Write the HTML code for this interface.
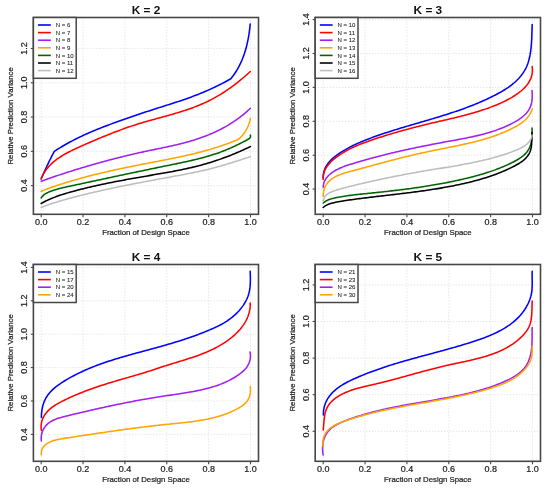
<!DOCTYPE html>
<html><head><meta charset="utf-8"><title>Prediction variance FDS plots</title>
<style>
html,body{margin:0;padding:0;background:#fff;}
svg{display:block;}
#w{width:550px;height:491px;}
text{font-family:"Liberation Sans",Arial,sans-serif;fill:#222;stroke:#222;stroke-width:0.22px;}
.grid{stroke:#d8d8d8;stroke-width:0.9;stroke-dasharray:1 2;fill:none;}
.crv{fill:none;stroke-width:1.55;stroke-linejoin:round;stroke-linecap:round;}
.box{fill:none;stroke:#474747;stroke-width:1.6;}
.lbox{fill:#fff;stroke:#474747;stroke-width:1.5;}
.tick{stroke:#474747;stroke-width:1.1;}
.lline{stroke-width:1.6;}
.tl{font-size:9px;}
.al{font-size:7.8px;}
.ti{font-size:11.8px;font-weight:bold;fill:#111;stroke:none;}
.lt{font-size:6.0px;stroke-width:0.08px;}
</style></head>
<body>
<div id="w">
<svg width="550" height="491" viewBox="0 0 550 491">
<rect width="550" height="491" fill="#fff"/>
<line x1="41.20" y1="17.5" x2="41.20" y2="214.3" class="grid"/>
<line x1="83.06" y1="17.5" x2="83.06" y2="214.3" class="grid"/>
<line x1="124.92" y1="17.5" x2="124.92" y2="214.3" class="grid"/>
<line x1="166.78" y1="17.5" x2="166.78" y2="214.3" class="grid"/>
<line x1="208.64" y1="17.5" x2="208.64" y2="214.3" class="grid"/>
<line x1="250.50" y1="17.5" x2="250.50" y2="214.3" class="grid"/>
<line x1="33.4" y1="185.62" x2="258.5" y2="185.62" class="grid"/>
<line x1="33.4" y1="151.34" x2="258.5" y2="151.34" class="grid"/>
<line x1="33.4" y1="117.06" x2="258.5" y2="117.06" class="grid"/>
<line x1="33.4" y1="82.78" x2="258.5" y2="82.78" class="grid"/>
<line x1="33.4" y1="48.50" x2="258.5" y2="48.50" class="grid"/>
<path d="M41.20,179.00 L41.82,177.52 L42.45,176.04 L43.09,174.56 L43.74,173.09 L44.39,171.62 L45.05,170.15 L45.72,168.69 L46.40,167.23 L47.08,165.78 L47.77,164.32 L48.47,162.87 L49.17,161.43 L49.88,159.99 L50.60,158.55 L51.33,157.11 L52.06,155.68 L52.80,154.25 L53.55,152.82 L54.30,151.40 L55.55,150.53 L56.84,149.71 L58.13,148.89 L59.42,148.08 L60.73,147.29 L62.03,146.51 L63.34,145.74 L64.65,144.97 L65.97,144.22 L67.30,143.48 L68.62,142.75 L69.95,142.03 L71.29,141.32 L72.63,140.61 L73.97,139.92 L75.32,139.23 L76.67,138.56 L78.03,137.89 L79.39,137.23 L80.75,136.58 L82.12,135.94 L83.49,135.30 L84.86,134.67 L86.24,134.05 L87.62,133.44 L89.00,132.83 L90.39,132.23 L91.78,131.63 L93.17,131.04 L94.56,130.46 L95.96,129.89 L97.36,129.31 L98.77,128.75 L100.17,128.19 L101.58,127.63 L102.99,127.08 L104.41,126.53 L105.82,125.99 L107.24,125.45 L108.66,124.92 L110.09,124.39 L111.51,123.86 L112.94,123.34 L114.36,122.82 L115.79,122.30 L117.23,121.79 L118.66,121.27 L120.10,120.76 L121.53,120.25 L122.97,119.75 L124.41,119.24 L125.85,118.74 L127.29,118.24 L128.74,117.73 L130.18,117.23 L131.63,116.74 L133.07,116.24 L134.52,115.75 L135.97,115.25 L137.41,114.76 L138.86,114.27 L140.31,113.78 L141.76,113.30 L143.21,112.81 L144.66,112.33 L146.11,111.85 L147.57,111.37 L149.02,110.90 L150.47,110.42 L151.92,109.95 L153.37,109.48 L154.82,109.01 L156.27,108.54 L157.72,108.08 L159.17,107.62 L160.62,107.16 L162.07,106.70 L163.52,106.25 L164.96,105.79 L166.41,105.33 L167.86,104.88 L169.30,104.42 L170.74,103.96 L172.19,103.50 L173.63,103.04 L175.07,102.57 L176.51,102.11 L177.94,101.63 L179.38,101.16 L180.81,100.68 L182.25,100.19 L183.68,99.70 L185.11,99.20 L186.53,98.70 L187.96,98.19 L189.38,97.67 L190.81,97.15 L192.22,96.62 L193.64,96.09 L195.06,95.55 L196.47,95.00 L197.88,94.45 L199.29,93.88 L200.69,93.32 L202.09,92.74 L203.49,92.16 L204.89,91.57 L206.28,90.97 L207.67,90.36 L209.06,89.75 L210.45,89.13 L211.83,88.50 L213.21,87.86 L214.58,87.22 L215.95,86.56 L217.32,85.90 L218.69,85.23 L220.05,84.55 L221.40,83.86 L222.76,83.16 L224.11,82.46 L225.45,81.74 L226.79,81.02 L228.13,80.28 L229.46,79.54 L230.80,78.80 L231.78,77.58 L232.74,76.34 L233.66,75.08 L234.55,73.81 L235.41,72.52 L236.25,71.21 L237.05,69.88 L237.82,68.54 L238.57,67.19 L239.29,65.81 L239.98,64.43 L240.65,63.03 L241.29,61.62 L241.90,60.20 L242.49,58.77 L243.05,57.32 L243.59,55.87 L244.11,54.40 L244.60,52.93 L245.07,51.45 L245.52,49.96 L245.95,48.46 L246.35,46.96 L246.74,45.45 L247.10,43.93 L247.45,42.41 L247.77,40.89 L248.08,39.36 L248.37,37.83 L248.64,36.29 L248.89,34.76 L249.12,33.22 L249.34,31.68 L249.55,30.15 L249.73,28.61 L249.91,27.07 L250.06,25.54 L250.20,24.00" stroke="#0000ff" class="crv"/>
<path d="M41.20,178.50 L41.82,177.01 L42.52,175.58 L43.26,174.19 L44.04,172.86 L44.86,171.56 L45.72,170.31 L46.61,169.11 L47.54,167.94 L48.50,166.81 L49.49,165.72 L50.52,164.67 L51.57,163.64 L52.65,162.65 L53.76,161.70 L54.90,160.77 L56.06,159.87 L57.24,158.99 L58.45,158.14 L59.67,157.31 L60.92,156.51 L62.19,155.72 L63.48,154.95 L64.78,154.20 L66.09,153.46 L67.43,152.74 L68.77,152.04 L70.13,151.35 L71.49,150.66 L72.87,150.00 L74.25,149.34 L75.64,148.68 L77.04,148.04 L78.44,147.40 L79.84,146.77 L81.25,146.14 L82.66,145.52 L84.06,144.90 L85.47,144.28 L86.88,143.66 L88.28,143.05 L89.69,142.44 L91.09,141.83 L92.50,141.22 L93.91,140.62 L95.31,140.02 L96.72,139.42 L98.13,138.83 L99.53,138.24 L100.94,137.65 L102.35,137.07 L103.76,136.49 L105.17,135.92 L106.58,135.35 L107.99,134.78 L109.40,134.22 L110.81,133.66 L112.22,133.11 L113.64,132.56 L115.05,132.01 L116.47,131.47 L117.88,130.94 L119.30,130.41 L120.72,129.88 L122.14,129.36 L123.57,128.85 L124.99,128.34 L126.42,127.84 L127.84,127.34 L129.27,126.85 L130.70,126.37 L132.13,125.89 L133.57,125.42 L135.01,124.95 L136.44,124.49 L137.88,124.04 L139.33,123.59 L140.77,123.15 L142.22,122.72 L143.66,122.29 L145.11,121.86 L146.56,121.44 L148.02,121.03 L149.47,120.62 L150.92,120.21 L152.38,119.80 L153.83,119.40 L155.29,118.99 L156.75,118.59 L158.20,118.19 L159.66,117.79 L161.12,117.40 L162.57,117.00 L164.03,116.59 L165.48,116.19 L166.94,115.79 L168.39,115.38 L169.84,114.97 L171.29,114.56 L172.74,114.14 L174.19,113.72 L175.64,113.30 L177.08,112.87 L178.52,112.43 L179.96,111.99 L181.40,111.54 L182.84,111.09 L184.27,110.62 L185.70,110.15 L187.13,109.67 L188.55,109.19 L189.97,108.69 L191.39,108.18 L192.80,107.67 L194.21,107.14 L195.62,106.60 L197.02,106.05 L198.42,105.49 L199.82,104.92 L201.21,104.33 L202.59,103.73 L203.97,103.12 L205.35,102.49 L206.72,101.85 L208.08,101.19 L209.44,100.52 L210.79,99.83 L212.14,99.13 L213.48,98.41 L214.82,97.68 L216.15,96.93 L217.47,96.17 L218.79,95.39 L220.10,94.60 L221.41,93.80 L222.70,92.99 L223.99,92.16 L225.28,91.32 L226.55,90.47 L227.82,89.61 L229.08,88.73 L230.33,87.85 L231.58,86.95 L232.81,86.05 L234.04,85.14 L235.26,84.21 L236.47,83.28 L237.67,82.34 L238.86,81.38 L240.05,80.43 L241.22,79.46 L242.39,78.48 L243.54,77.50 L244.69,76.51 L245.82,75.52 L246.95,74.52 L248.07,73.51 L249.17,72.49 L250.30,71.50" stroke="#ff0000" class="crv"/>
<path d="M41.20,181.20 L42.62,180.72 L44.02,180.22 L45.42,179.73 L46.82,179.24 L48.23,178.74 L49.64,178.26 L51.05,177.77 L52.46,177.29 L53.88,176.80 L55.30,176.32 L56.72,175.84 L58.14,175.37 L59.57,174.89 L61.00,174.42 L62.43,173.95 L63.86,173.48 L65.30,173.02 L66.74,172.55 L68.18,172.09 L69.62,171.63 L71.06,171.17 L72.51,170.72 L73.96,170.26 L75.41,169.81 L76.86,169.36 L78.31,168.92 L79.77,168.47 L81.23,168.03 L82.69,167.59 L84.15,167.16 L85.61,166.72 L87.07,166.29 L88.54,165.86 L90.00,165.43 L91.47,165.01 L92.94,164.58 L94.41,164.16 L95.88,163.75 L97.35,163.33 L98.82,162.92 L100.30,162.51 L101.77,162.10 L103.25,161.70 L104.72,161.30 L106.20,160.90 L107.68,160.50 L109.16,160.11 L110.64,159.72 L112.12,159.33 L113.60,158.95 L115.08,158.56 L116.56,158.19 L118.04,157.81 L119.53,157.44 L121.01,157.07 L122.49,156.70 L123.97,156.33 L125.46,155.97 L126.94,155.61 L128.42,155.26 L129.91,154.90 L131.39,154.55 L132.87,154.21 L134.35,153.86 L135.84,153.52 L137.32,153.19 L138.80,152.85 L140.28,152.52 L141.76,152.20 L143.24,151.87 L144.72,151.55 L146.20,151.23 L147.68,150.92 L149.16,150.61 L150.63,150.30 L152.11,149.99 L153.59,149.68 L155.06,149.38 L156.53,149.08 L158.01,148.77 L159.48,148.47 L160.95,148.16 L162.42,147.86 L163.88,147.55 L165.35,147.24 L166.82,146.93 L168.28,146.62 L169.74,146.30 L171.20,145.98 L172.66,145.65 L174.12,145.32 L175.58,144.99 L177.03,144.65 L178.48,144.30 L179.93,143.95 L181.38,143.59 L182.83,143.22 L184.27,142.84 L185.72,142.46 L187.16,142.07 L188.60,141.67 L190.03,141.26 L191.47,140.84 L192.90,140.41 L194.33,139.97 L195.76,139.51 L197.18,139.05 L198.60,138.57 L200.02,138.08 L201.44,137.58 L202.85,137.07 L204.26,136.54 L205.67,136.01 L207.07,135.46 L208.47,134.89 L209.86,134.31 L211.25,133.72 L212.63,133.12 L214.01,132.50 L215.38,131.87 L216.74,131.23 L218.10,130.57 L219.45,129.90 L220.80,129.22 L222.14,128.52 L223.47,127.80 L224.79,127.07 L226.11,126.33 L227.42,125.57 L228.72,124.80 L230.01,124.01 L231.29,123.21 L232.57,122.39 L233.83,121.55 L235.09,120.70 L236.33,119.84 L237.57,118.96 L238.79,118.06 L240.01,117.15 L241.21,116.22 L242.41,115.27 L243.59,114.31 L244.76,113.33 L245.91,112.34 L247.06,111.32 L248.19,110.29 L249.32,109.25 L250.40,108.20" stroke="#a020f0" class="crv"/>
<path d="M41.20,191.20 L42.62,190.68 L44.04,190.14 L45.46,189.61 L46.88,189.08 L48.30,188.56 L49.72,188.04 L51.15,187.53 L52.57,187.03 L54.00,186.53 L55.44,186.04 L56.87,185.56 L58.31,185.08 L59.74,184.60 L61.18,184.13 L62.63,183.67 L64.07,183.21 L65.51,182.75 L66.96,182.30 L68.41,181.86 L69.86,181.42 L71.31,180.98 L72.76,180.55 L74.22,180.13 L75.67,179.71 L77.13,179.29 L78.59,178.88 L80.05,178.47 L81.51,178.07 L82.98,177.67 L84.44,177.27 L85.91,176.88 L87.37,176.50 L88.84,176.11 L90.31,175.74 L91.78,175.36 L93.25,174.99 L94.73,174.62 L96.20,174.26 L97.67,173.90 L99.15,173.54 L100.63,173.18 L102.10,172.83 L103.58,172.48 L105.06,172.14 L106.54,171.80 L108.02,171.46 L109.50,171.12 L110.98,170.79 L112.47,170.46 L113.95,170.13 L115.43,169.81 L116.92,169.48 L118.40,169.16 L119.89,168.85 L121.37,168.53 L122.86,168.22 L124.35,167.91 L125.83,167.60 L127.32,167.29 L128.81,166.98 L130.30,166.68 L131.78,166.38 L133.27,166.08 L134.76,165.78 L136.25,165.48 L137.74,165.19 L139.23,164.89 L140.71,164.60 L142.20,164.31 L143.69,164.02 L145.18,163.73 L146.67,163.44 L148.15,163.15 L149.64,162.86 L151.13,162.58 L152.62,162.29 L154.10,162.00 L155.59,161.72 L157.08,161.43 L158.56,161.15 L160.05,160.86 L161.53,160.57 L163.01,160.28 L164.50,159.99 L165.98,159.70 L167.46,159.40 L168.94,159.11 L170.43,158.81 L171.91,158.51 L173.39,158.21 L174.86,157.91 L176.34,157.60 L177.82,157.29 L179.29,156.98 L180.77,156.66 L182.24,156.34 L183.72,156.02 L185.19,155.69 L186.66,155.36 L188.13,155.03 L189.60,154.69 L191.07,154.34 L192.53,153.99 L194.00,153.64 L195.46,153.28 L196.92,152.92 L198.38,152.55 L199.84,152.17 L201.30,151.79 L202.76,151.40 L204.21,151.01 L205.67,150.61 L207.12,150.20 L208.57,149.79 L210.02,149.37 L211.47,148.94 L212.91,148.50 L214.36,148.06 L215.80,147.61 L217.24,147.15 L218.68,146.69 L220.11,146.21 L221.55,145.73 L222.98,145.23 L224.41,144.73 L225.84,144.22 L227.27,143.70 L228.69,143.17 L230.11,142.63 L231.53,142.09 L232.95,141.53 L234.37,140.96 L235.78,140.38 L237.19,139.79 L238.60,139.20 L239.81,138.07 L240.97,136.91 L242.07,135.71 L243.10,134.48 L244.07,133.21 L244.99,131.90 L245.84,130.56 L246.62,129.18 L247.35,127.76 L248.01,126.31 L248.61,124.82 L249.15,123.30 L249.63,121.73 L250.05,120.14 L250.40,118.50" stroke="#ffa500" class="crv"/>
<path d="M41.20,198.00 L42.22,196.57 L43.32,195.39 L44.46,194.43 L45.65,193.63 L46.88,192.95 L48.14,192.35 L49.44,191.79 L50.77,191.26 L52.14,190.75 L53.53,190.28 L54.94,189.83 L56.38,189.40 L57.84,188.99 L59.31,188.60 L60.80,188.22 L62.31,187.86 L63.82,187.50 L65.34,187.16 L66.86,186.83 L68.39,186.50 L69.92,186.17 L71.45,185.84 L72.97,185.51 L74.49,185.19 L76.01,184.86 L77.53,184.54 L79.04,184.21 L80.55,183.89 L82.06,183.56 L83.57,183.24 L85.07,182.92 L86.58,182.60 L88.08,182.27 L89.58,181.95 L91.08,181.63 L92.57,181.31 L94.07,180.99 L95.56,180.67 L97.05,180.35 L98.54,180.03 L100.03,179.71 L101.52,179.39 L103.01,179.08 L104.49,178.76 L105.97,178.44 L107.46,178.13 L108.94,177.81 L110.42,177.49 L111.90,177.18 L113.38,176.86 L114.85,176.55 L116.33,176.23 L117.81,175.92 L119.28,175.61 L120.76,175.29 L122.23,174.98 L123.71,174.67 L125.18,174.36 L126.65,174.05 L128.13,173.73 L129.60,173.42 L131.07,173.11 L132.54,172.80 L134.02,172.49 L135.49,172.18 L136.96,171.87 L138.43,171.56 L139.91,171.26 L141.38,170.95 L142.85,170.64 L144.33,170.33 L145.80,170.02 L147.27,169.72 L148.75,169.41 L150.22,169.10 L151.70,168.80 L153.18,168.49 L154.65,168.18 L156.13,167.88 L157.61,167.57 L159.09,167.27 L160.57,166.96 L162.06,166.66 L163.54,166.36 L165.02,166.05 L166.51,165.75 L168.00,165.45 L169.48,165.14 L170.97,164.84 L172.46,164.54 L173.96,164.23 L175.45,163.93 L176.94,163.62 L178.43,163.31 L179.93,163.00 L181.42,162.68 L182.91,162.36 L184.40,162.04 L185.90,161.72 L187.39,161.39 L188.88,161.06 L190.37,160.72 L191.85,160.38 L193.34,160.03 L194.82,159.67 L196.31,159.31 L197.79,158.95 L199.27,158.57 L200.74,158.19 L202.22,157.80 L203.69,157.40 L205.16,157.00 L206.63,156.58 L208.09,156.16 L209.55,155.72 L211.00,155.28 L212.46,154.83 L213.91,154.36 L215.35,153.89 L216.79,153.40 L218.23,152.91 L219.66,152.40 L221.09,151.87 L222.51,151.34 L223.93,150.79 L225.34,150.23 L226.75,149.65 L228.15,149.07 L229.55,148.47 L230.94,147.85 L232.32,147.23 L233.70,146.59 L235.08,145.95 L236.45,145.30 L237.82,144.63 L239.18,143.96 L240.53,143.28 L241.88,142.59 L243.23,141.89 L244.57,141.19 L245.90,140.48 L247.23,139.77 L248.55,139.05 L249.74,138.22 L250.48,137.01 L250.40,135.10" stroke="#006400" class="crv"/>
<path d="M41.20,203.50 L42.50,202.71 L43.87,202.00 L45.24,201.31 L46.62,200.64 L47.99,200.00 L49.38,199.38 L50.76,198.78 L52.15,198.20 L53.55,197.64 L54.94,197.10 L56.34,196.57 L57.74,196.06 L59.15,195.57 L60.56,195.09 L61.97,194.62 L63.39,194.17 L64.81,193.73 L66.23,193.30 L67.66,192.87 L69.08,192.46 L70.51,192.05 L71.95,191.66 L73.38,191.26 L74.82,190.88 L76.26,190.50 L77.71,190.12 L79.15,189.74 L80.60,189.37 L82.05,189.01 L83.51,188.65 L84.96,188.29 L86.42,187.94 L87.88,187.59 L89.34,187.24 L90.81,186.90 L92.27,186.56 L93.74,186.23 L95.21,185.89 L96.68,185.57 L98.16,185.24 L99.63,184.92 L101.11,184.60 L102.59,184.29 L104.07,183.97 L105.55,183.66 L107.03,183.36 L108.52,183.05 L110.00,182.75 L111.49,182.45 L112.98,182.16 L114.47,181.86 L115.96,181.57 L117.45,181.28 L118.94,181.00 L120.44,180.71 L121.93,180.43 L123.43,180.15 L124.92,179.87 L126.42,179.60 L127.92,179.32 L129.42,179.05 L130.92,178.78 L132.41,178.51 L133.91,178.24 L135.41,177.98 L136.91,177.71 L138.41,177.45 L139.92,177.18 L141.42,176.92 L142.92,176.66 L144.42,176.40 L145.92,176.14 L147.42,175.89 L148.92,175.63 L150.42,175.37 L151.92,175.12 L153.42,174.86 L154.92,174.60 L156.42,174.35 L157.92,174.09 L159.42,173.83 L160.92,173.57 L162.42,173.31 L163.91,173.04 L165.41,172.78 L166.90,172.51 L168.40,172.24 L169.89,171.96 L171.38,171.69 L172.87,171.41 L174.37,171.12 L175.85,170.84 L177.34,170.55 L178.83,170.25 L180.32,169.95 L181.80,169.65 L183.28,169.34 L184.76,169.03 L186.24,168.71 L187.72,168.38 L189.20,168.05 L190.67,167.71 L192.15,167.37 L193.62,167.02 L195.09,166.67 L196.56,166.30 L198.02,165.93 L199.49,165.55 L200.95,165.17 L202.41,164.77 L203.87,164.37 L205.32,163.96 L206.77,163.54 L208.22,163.11 L209.67,162.68 L211.12,162.23 L212.56,161.78 L214.00,161.31 L215.44,160.84 L216.88,160.36 L218.31,159.87 L219.74,159.37 L221.17,158.86 L222.59,158.35 L224.01,157.83 L225.43,157.30 L226.85,156.76 L228.26,156.21 L229.67,155.66 L231.07,155.10 L232.47,154.53 L233.87,153.96 L235.27,153.38 L236.66,152.79 L238.05,152.20 L239.44,151.60 L240.82,150.99 L242.20,150.38 L243.57,149.76 L244.94,149.14 L246.31,148.51 L247.67,147.87 L249.03,147.23 L250.40,146.60" stroke="#000000" class="crv"/>
<path d="M41.20,207.50 L42.61,206.91 L44.04,206.37 L45.47,205.83 L46.91,205.31 L48.34,204.80 L49.78,204.30 L51.22,203.81 L52.66,203.34 L54.10,202.87 L55.54,202.41 L56.99,201.96 L58.44,201.51 L59.89,201.08 L61.34,200.65 L62.79,200.23 L64.24,199.81 L65.70,199.40 L67.15,198.99 L68.61,198.59 L70.07,198.20 L71.53,197.80 L72.99,197.41 L74.45,197.03 L75.92,196.65 L77.38,196.27 L78.85,195.89 L80.32,195.52 L81.79,195.16 L83.26,194.79 L84.73,194.43 L86.20,194.07 L87.68,193.72 L89.15,193.36 L90.63,193.01 L92.10,192.67 L93.58,192.32 L95.06,191.98 L96.54,191.64 L98.02,191.30 L99.50,190.97 L100.98,190.64 L102.47,190.31 L103.95,189.98 L105.43,189.65 L106.92,189.33 L108.41,189.01 L109.89,188.69 L111.38,188.37 L112.87,188.06 L114.36,187.75 L115.85,187.43 L117.33,187.13 L118.82,186.82 L120.32,186.51 L121.81,186.21 L123.30,185.91 L124.79,185.61 L126.28,185.31 L127.78,185.01 L129.27,184.71 L130.76,184.42 L132.26,184.13 L133.75,183.84 L135.24,183.55 L136.74,183.26 L138.23,182.97 L139.73,182.68 L141.22,182.40 L142.72,182.11 L144.21,181.83 L145.71,181.55 L147.20,181.27 L148.70,180.99 L150.19,180.71 L151.69,180.43 L153.18,180.16 L154.68,179.88 L156.17,179.60 L157.67,179.33 L159.16,179.05 L160.66,178.78 L162.15,178.51 L163.64,178.23 L165.14,177.96 L166.63,177.69 L168.12,177.42 L169.62,177.15 L171.11,176.88 L172.60,176.61 L174.09,176.34 L175.58,176.06 L177.07,175.79 L178.56,175.51 L180.05,175.24 L181.54,174.96 L183.03,174.68 L184.52,174.40 L186.00,174.11 L187.49,173.82 L188.97,173.53 L190.46,173.23 L191.94,172.94 L193.43,172.63 L194.91,172.32 L196.39,172.01 L197.87,171.69 L199.35,171.37 L200.83,171.04 L202.31,170.71 L203.78,170.37 L205.26,170.02 L206.74,169.67 L208.21,169.31 L209.68,168.94 L211.16,168.57 L212.63,168.19 L214.10,167.80 L215.56,167.41 L217.03,167.00 L218.50,166.60 L219.96,166.19 L221.43,165.77 L222.89,165.35 L224.35,164.92 L225.81,164.49 L227.27,164.05 L228.72,163.61 L230.18,163.17 L231.63,162.72 L233.09,162.27 L234.54,161.82 L235.99,161.36 L237.43,160.90 L238.88,160.44 L240.33,159.97 L241.77,159.51 L243.21,159.04 L244.65,158.57 L246.09,158.10 L247.52,157.63 L248.96,157.16 L250.40,156.70" stroke="#bebebe" class="crv"/>
<rect x="33.4" y="17.5" width="225.10" height="196.80" class="box"/>
<line x1="41.20" y1="214.3" x2="41.20" y2="217.3" class="tick"/>
<text x="41.20" y="225.1" class="tl" text-anchor="middle">0.0</text>
<line x1="83.06" y1="214.3" x2="83.06" y2="217.3" class="tick"/>
<text x="83.06" y="225.1" class="tl" text-anchor="middle">0.2</text>
<line x1="124.92" y1="214.3" x2="124.92" y2="217.3" class="tick"/>
<text x="124.92" y="225.1" class="tl" text-anchor="middle">0.4</text>
<line x1="166.78" y1="214.3" x2="166.78" y2="217.3" class="tick"/>
<text x="166.78" y="225.1" class="tl" text-anchor="middle">0.6</text>
<line x1="208.64" y1="214.3" x2="208.64" y2="217.3" class="tick"/>
<text x="208.64" y="225.1" class="tl" text-anchor="middle">0.8</text>
<line x1="250.50" y1="214.3" x2="250.50" y2="217.3" class="tick"/>
<text x="250.50" y="225.1" class="tl" text-anchor="middle">1.0</text>
<line x1="33.4" y1="185.62" x2="30.8" y2="185.62" class="tick"/>
<text transform="translate(27.2,185.62) rotate(-90)" class="tl" text-anchor="middle">0.4</text>
<line x1="33.4" y1="151.34" x2="30.8" y2="151.34" class="tick"/>
<text transform="translate(27.2,151.34) rotate(-90)" class="tl" text-anchor="middle">0.6</text>
<line x1="33.4" y1="117.06" x2="30.8" y2="117.06" class="tick"/>
<text transform="translate(27.2,117.06) rotate(-90)" class="tl" text-anchor="middle">0.8</text>
<line x1="33.4" y1="82.78" x2="30.8" y2="82.78" class="tick"/>
<text transform="translate(27.2,82.78) rotate(-90)" class="tl" text-anchor="middle">1.0</text>
<line x1="33.4" y1="48.50" x2="30.8" y2="48.50" class="tick"/>
<text transform="translate(27.2,48.50) rotate(-90)" class="tl" text-anchor="middle">1.2</text>
<text x="145.95" y="235.2" class="al" text-anchor="middle">Fraction of Design Space</text>
<text transform="translate(13.3,115.90) rotate(-90)" class="al" text-anchor="middle">Relative Prediction Variance</text>
<text transform="translate(145.95,14.40) rotate(0.01)" class="ti" text-anchor="middle">K = 2</text>
<rect x="33.4" y="17.5" width="42.80" height="60.80" class="lbox"/>
<line x1="38.0" y1="25.00" x2="50.8" y2="25.00" stroke="#0000ff" class="lline"/>
<text x="55.8" y="27.10" class="lt">N = 6</text>
<line x1="38.0" y1="32.60" x2="50.8" y2="32.60" stroke="#ff0000" class="lline"/>
<text x="55.8" y="34.70" class="lt">N = 7</text>
<line x1="38.0" y1="40.20" x2="50.8" y2="40.20" stroke="#a020f0" class="lline"/>
<text x="55.8" y="42.30" class="lt">N = 8</text>
<line x1="38.0" y1="47.80" x2="50.8" y2="47.80" stroke="#ffa500" class="lline"/>
<text x="55.8" y="49.90" class="lt">N = 9</text>
<line x1="38.0" y1="55.40" x2="50.8" y2="55.40" stroke="#006400" class="lline"/>
<text x="55.8" y="57.50" class="lt">N = 10</text>
<line x1="38.0" y1="63.00" x2="50.8" y2="63.00" stroke="#000000" class="lline"/>
<text x="55.8" y="65.10" class="lt">N = 11</text>
<line x1="38.0" y1="70.60" x2="50.8" y2="70.60" stroke="#bebebe" class="lline"/>
<text x="55.8" y="72.70" class="lt">N = 12</text>
<line x1="323.20" y1="17.5" x2="323.20" y2="214.3" class="grid"/>
<line x1="365.06" y1="17.5" x2="365.06" y2="214.3" class="grid"/>
<line x1="406.92" y1="17.5" x2="406.92" y2="214.3" class="grid"/>
<line x1="448.78" y1="17.5" x2="448.78" y2="214.3" class="grid"/>
<line x1="490.64" y1="17.5" x2="490.64" y2="214.3" class="grid"/>
<line x1="532.50" y1="17.5" x2="532.50" y2="214.3" class="grid"/>
<line x1="315.2" y1="189.10" x2="540.5" y2="189.10" class="grid"/>
<line x1="315.2" y1="155.20" x2="540.5" y2="155.20" class="grid"/>
<line x1="315.2" y1="121.30" x2="540.5" y2="121.30" class="grid"/>
<line x1="315.2" y1="87.40" x2="540.5" y2="87.40" class="grid"/>
<line x1="315.2" y1="53.50" x2="540.5" y2="53.50" class="grid"/>
<line x1="315.2" y1="19.60" x2="540.5" y2="19.60" class="grid"/>
<path d="M323.20,178.00 L323.22,176.31 L323.36,174.67 L323.61,173.11 L323.96,171.60 L324.40,170.15 L324.92,168.76 L325.53,167.43 L326.22,166.14 L326.98,164.90 L327.81,163.71 L328.70,162.57 L329.65,161.46 L330.65,160.40 L331.70,159.37 L332.79,158.37 L333.91,157.41 L335.07,156.48 L336.26,155.57 L337.46,154.68 L338.69,153.82 L339.93,152.98 L341.18,152.15 L342.45,151.35 L343.73,150.56 L345.02,149.80 L346.33,149.05 L347.65,148.31 L348.97,147.59 L350.31,146.89 L351.66,146.21 L353.02,145.53 L354.39,144.88 L355.77,144.23 L357.15,143.60 L358.54,142.98 L359.94,142.38 L361.35,141.78 L362.76,141.19 L364.17,140.62 L365.59,140.05 L367.02,139.50 L368.44,138.95 L369.87,138.41 L371.31,137.87 L372.74,137.35 L374.18,136.83 L375.62,136.31 L377.06,135.80 L378.50,135.30 L379.94,134.80 L381.38,134.31 L382.83,133.82 L384.27,133.34 L385.72,132.86 L387.16,132.39 L388.61,131.92 L390.06,131.46 L391.51,130.99 L392.96,130.54 L394.41,130.08 L395.86,129.63 L397.31,129.18 L398.76,128.74 L400.21,128.30 L401.66,127.86 L403.12,127.42 L404.57,126.99 L406.02,126.55 L407.47,126.12 L408.93,125.69 L410.38,125.26 L411.83,124.84 L413.28,124.41 L414.74,123.98 L416.19,123.56 L417.64,123.14 L419.09,122.71 L420.54,122.29 L421.99,121.86 L423.44,121.44 L424.89,121.01 L426.34,120.59 L427.79,120.16 L429.24,119.74 L430.69,119.31 L432.13,118.88 L433.58,118.44 L435.02,118.01 L436.46,117.58 L437.91,117.14 L439.35,116.70 L440.79,116.25 L442.22,115.81 L443.66,115.36 L445.10,114.91 L446.53,114.45 L447.96,114.00 L449.40,113.53 L450.83,113.07 L452.25,112.60 L453.68,112.12 L455.11,111.64 L456.53,111.16 L457.95,110.67 L459.37,110.18 L460.79,109.68 L462.20,109.17 L463.61,108.66 L465.03,108.15 L466.43,107.63 L467.84,107.10 L469.25,106.56 L470.65,106.02 L472.05,105.48 L473.44,104.92 L474.84,104.36 L476.23,103.79 L477.62,103.21 L479.01,102.63 L480.39,102.04 L481.77,101.44 L483.15,100.83 L484.53,100.21 L485.90,99.58 L487.27,98.95 L488.64,98.31 L490.00,97.65 L491.36,96.99 L492.72,96.32 L494.07,95.64 L495.42,94.95 L496.76,94.24 L498.10,93.53 L499.43,92.80 L500.75,92.06 L502.05,91.30 L503.35,90.53 L504.63,89.74 L505.89,88.94 L507.14,88.11 L508.38,87.27 L509.59,86.41 L510.78,85.53 L511.95,84.63 L513.09,83.71 L514.21,82.77 L515.31,81.80 L516.38,80.81 L517.41,79.79 L518.42,78.75 L519.40,77.68 L520.34,76.59 L521.25,75.46 L522.12,74.31 L522.96,73.13 L523.76,71.91 L524.52,70.67 L525.23,69.39 L525.91,68.09 L526.54,66.74 L527.12,65.37 L527.66,63.96 L528.16,62.51 L528.61,61.05 L529.02,59.55 L529.40,58.04 L529.73,56.50 L530.04,54.96 L530.31,53.40 L530.56,51.83 L530.77,50.26 L530.96,48.69 L531.13,47.13 L531.28,45.57 L531.40,44.01 L531.51,42.47 L531.60,40.95 L531.68,39.44 L531.75,37.93 L531.81,36.44 L531.86,34.95 L531.91,33.47 L531.96,31.98 L532.00,30.50 L532.04,29.01 L532.09,27.52 L532.14,26.02 L532.20,24.50" stroke="#0000ff" class="crv"/>
<path d="M323.20,179.50 L323.14,177.88 L323.25,176.32 L323.47,174.80 L323.80,173.33 L324.23,171.91 L324.77,170.53 L325.39,169.20 L326.11,167.90 L326.90,166.65 L327.77,165.44 L328.70,164.27 L329.69,163.14 L330.74,162.04 L331.83,160.98 L332.97,159.95 L334.14,158.95 L335.34,157.99 L336.57,157.06 L337.81,156.15 L339.06,155.28 L340.32,154.43 L341.58,153.61 L342.86,152.81 L344.14,152.04 L345.43,151.29 L346.73,150.56 L348.03,149.85 L349.34,149.17 L350.66,148.50 L351.99,147.86 L353.32,147.23 L354.67,146.61 L356.01,146.02 L357.37,145.43 L358.73,144.86 L360.09,144.31 L361.46,143.76 L362.84,143.23 L364.23,142.71 L365.62,142.19 L367.01,141.69 L368.41,141.19 L369.82,140.69 L371.23,140.20 L372.64,139.72 L374.06,139.24 L375.49,138.76 L376.92,138.29 L378.35,137.82 L379.79,137.35 L381.24,136.89 L382.68,136.43 L384.13,135.97 L385.59,135.52 L387.04,135.07 L388.51,134.62 L389.97,134.18 L391.44,133.74 L392.91,133.31 L394.38,132.87 L395.86,132.44 L397.34,132.02 L398.82,131.60 L400.30,131.18 L401.79,130.76 L403.28,130.35 L404.77,129.94 L406.26,129.53 L407.75,129.13 L409.25,128.73 L410.74,128.33 L412.24,127.94 L413.74,127.55 L415.24,127.16 L416.74,126.78 L418.24,126.40 L419.74,126.02 L421.24,125.64 L422.74,125.27 L424.24,124.90 L425.75,124.54 L427.25,124.17 L428.75,123.81 L430.25,123.46 L431.75,123.10 L433.25,122.75 L434.75,122.40 L436.25,122.05 L437.75,121.71 L439.24,121.36 L440.74,121.01 L442.23,120.67 L443.72,120.32 L445.22,119.98 L446.70,119.63 L448.19,119.28 L449.68,118.93 L451.16,118.58 L452.65,118.23 L454.13,117.88 L455.61,117.52 L457.08,117.16 L458.56,116.80 L460.03,116.43 L461.50,116.06 L462.96,115.69 L464.43,115.31 L465.89,114.93 L467.35,114.54 L468.80,114.14 L470.25,113.75 L471.70,113.34 L473.15,112.93 L474.59,112.51 L476.03,112.09 L477.46,111.65 L478.89,111.21 L480.32,110.77 L481.74,110.31 L483.16,109.85 L484.58,109.37 L485.99,108.89 L487.40,108.40 L488.80,107.90 L490.20,107.39 L491.59,106.87 L492.98,106.33 L494.36,105.79 L495.74,105.23 L497.12,104.67 L498.49,104.08 L499.85,103.49 L501.21,102.88 L502.56,102.25 L503.91,101.60 L505.25,100.94 L506.59,100.26 L507.92,99.56 L509.25,98.83 L510.56,98.09 L511.88,97.32 L513.18,96.53 L514.48,95.72 L515.77,94.88 L517.04,94.01 L518.29,93.12 L519.52,92.20 L520.71,91.25 L521.88,90.27 L523.00,89.26 L524.09,88.22 L525.12,87.14 L526.11,86.03 L527.04,84.89 L527.91,83.71 L528.72,82.50 L529.46,81.24 L530.13,79.95 L530.72,78.62 L531.23,77.25 L531.66,75.84 L531.99,74.39 L532.23,72.89 L532.38,71.36 L532.42,69.77 L532.35,68.14 L532.20,66.50" stroke="#ff0000" class="crv"/>
<path d="M323.20,187.20 L323.33,185.56 L323.62,184.01 L324.04,182.54 L324.59,181.14 L325.26,179.82 L326.02,178.57 L326.89,177.39 L327.84,176.28 L328.87,175.23 L329.97,174.23 L331.12,173.29 L332.33,172.41 L333.57,171.58 L334.84,170.79 L336.15,170.04 L337.48,169.34 L338.85,168.68 L340.23,168.05 L341.63,167.45 L343.06,166.88 L344.49,166.33 L345.95,165.81 L347.41,165.31 L348.88,164.82 L350.35,164.35 L351.83,163.89 L353.31,163.43 L354.79,162.98 L356.27,162.54 L357.74,162.09 L359.22,161.66 L360.69,161.23 L362.16,160.80 L363.63,160.38 L365.10,159.96 L366.57,159.55 L368.04,159.14 L369.51,158.73 L370.97,158.33 L372.44,157.93 L373.90,157.54 L375.37,157.15 L376.83,156.76 L378.30,156.38 L379.76,156.00 L381.22,155.63 L382.68,155.26 L384.14,154.89 L385.60,154.53 L387.06,154.17 L388.52,153.81 L389.98,153.46 L391.44,153.11 L392.90,152.76 L394.36,152.42 L395.82,152.07 L397.28,151.74 L398.74,151.40 L400.20,151.07 L401.67,150.74 L403.13,150.41 L404.59,150.09 L406.05,149.77 L407.51,149.45 L408.97,149.13 L410.44,148.82 L411.90,148.50 L413.37,148.19 L414.83,147.89 L416.30,147.58 L417.76,147.28 L419.23,146.98 L420.70,146.68 L422.17,146.38 L423.64,146.08 L425.11,145.79 L426.58,145.50 L428.06,145.21 L429.53,144.92 L431.01,144.63 L432.49,144.35 L433.97,144.06 L435.45,143.78 L436.93,143.50 L438.41,143.21 L439.90,142.93 L441.38,142.66 L442.87,142.38 L444.36,142.10 L445.85,141.83 L447.35,141.55 L448.84,141.28 L450.34,141.00 L451.84,140.73 L453.34,140.45 L454.84,140.18 L456.34,139.90 L457.85,139.63 L459.35,139.34 L460.86,139.06 L462.36,138.77 L463.86,138.48 L465.37,138.19 L466.87,137.89 L468.37,137.58 L469.87,137.27 L471.37,136.96 L472.86,136.63 L474.36,136.30 L475.85,135.96 L477.34,135.62 L478.83,135.26 L480.31,134.90 L481.79,134.52 L483.27,134.14 L484.75,133.74 L486.22,133.34 L487.68,132.92 L489.15,132.49 L490.60,132.05 L492.06,131.59 L493.50,131.12 L494.95,130.64 L496.38,130.14 L497.81,129.63 L499.24,129.10 L500.66,128.55 L502.07,127.99 L503.47,127.42 L504.87,126.82 L506.26,126.21 L507.65,125.58 L509.02,124.93 L510.39,124.26 L511.75,123.57 L513.10,122.86 L514.45,122.13 L515.78,121.37 L517.09,120.59 L518.38,119.79 L519.64,118.95 L520.87,118.08 L522.06,117.18 L523.20,116.23 L524.30,115.25 L525.35,114.23 L526.34,113.16 L527.26,112.05 L528.12,110.88 L528.90,109.67 L529.61,108.41 L530.23,107.10 L530.76,105.75 L531.21,104.36 L531.56,102.92 L531.84,101.45 L532.05,99.95 L532.18,98.42 L532.25,96.86 L532.26,95.29 L532.21,93.70 L532.11,92.09 L532.00,90.50" stroke="#a020f0" class="crv"/>
<path d="M323.20,196.50 L323.21,194.75 L323.36,193.06 L323.61,191.45 L323.97,189.93 L324.42,188.48 L324.97,187.12 L325.61,185.82 L326.33,184.60 L327.13,183.45 L328.01,182.36 L328.97,181.34 L329.99,180.38 L331.07,179.48 L332.22,178.63 L333.42,177.85 L334.67,177.11 L335.97,176.42 L337.31,175.78 L338.69,175.18 L340.11,174.61 L341.56,174.08 L343.03,173.57 L344.52,173.09 L346.03,172.63 L347.55,172.19 L349.09,171.76 L350.62,171.34 L352.16,170.93 L353.69,170.52 L355.22,170.11 L356.74,169.70 L358.26,169.29 L359.78,168.89 L361.28,168.48 L362.79,168.07 L364.29,167.67 L365.78,167.27 L367.27,166.86 L368.76,166.46 L370.24,166.06 L371.72,165.66 L373.20,165.26 L374.67,164.86 L376.14,164.47 L377.61,164.07 L379.07,163.68 L380.54,163.28 L382.00,162.89 L383.45,162.50 L384.91,162.12 L386.36,161.73 L387.82,161.35 L389.27,160.97 L390.72,160.58 L392.17,160.21 L393.62,159.83 L395.06,159.46 L396.51,159.08 L397.96,158.71 L399.40,158.34 L400.85,157.98 L402.30,157.61 L403.74,157.25 L405.19,156.89 L406.64,156.54 L408.09,156.18 L409.54,155.83 L410.99,155.48 L412.44,155.14 L413.90,154.79 L415.35,154.45 L416.81,154.11 L418.27,153.78 L419.73,153.44 L421.20,153.12 L422.66,152.79 L424.14,152.47 L425.61,152.15 L427.09,151.83 L428.57,151.51 L430.05,151.20 L431.53,150.90 L433.02,150.59 L434.52,150.29 L436.01,149.99 L437.51,149.68 L439.01,149.39 L440.51,149.09 L442.01,148.79 L443.51,148.49 L445.02,148.19 L446.53,147.89 L448.03,147.59 L449.54,147.29 L451.05,146.99 L452.56,146.68 L454.07,146.38 L455.58,146.07 L457.09,145.75 L458.60,145.44 L460.11,145.12 L461.61,144.80 L463.12,144.47 L464.62,144.13 L466.13,143.80 L467.63,143.45 L469.13,143.11 L470.63,142.75 L472.12,142.39 L473.62,142.02 L475.11,141.65 L476.60,141.27 L478.08,140.88 L479.56,140.48 L481.04,140.08 L482.52,139.66 L483.99,139.24 L485.45,138.80 L486.92,138.36 L488.37,137.91 L489.83,137.45 L491.28,136.97 L492.72,136.49 L494.16,135.99 L495.59,135.49 L497.02,134.97 L498.44,134.44 L499.86,133.89 L501.27,133.34 L502.67,132.76 L504.07,132.18 L505.46,131.58 L506.84,130.97 L508.22,130.34 L509.58,129.70 L510.95,129.04 L512.30,128.37 L513.64,127.68 L514.98,126.97 L516.30,126.24 L517.61,125.49 L518.89,124.71 L520.14,123.90 L521.37,123.06 L522.56,122.17 L523.72,121.25 L524.83,120.28 L525.89,119.27 L526.91,118.20 L527.86,117.07 L528.76,115.89 L529.60,114.65 L530.37,113.34 L531.07,111.97 L531.69,110.52 L532.20,109.00" stroke="#ffa500" class="crv"/>
<path d="M323.20,203.00 L324.46,201.98 L325.79,201.13 L327.13,200.42 L328.49,199.82 L329.87,199.30 L331.26,198.87 L332.66,198.48 L334.07,198.13 L335.50,197.80 L336.93,197.50 L338.38,197.22 L339.84,196.95 L341.30,196.70 L342.78,196.46 L344.26,196.23 L345.76,196.01 L347.25,195.80 L348.76,195.59 L350.27,195.39 L351.79,195.20 L353.31,195.01 L354.84,194.82 L356.37,194.64 L357.91,194.47 L359.44,194.30 L360.98,194.13 L362.53,193.97 L364.07,193.81 L365.61,193.65 L367.15,193.49 L368.69,193.33 L370.23,193.18 L371.77,193.02 L373.31,192.86 L374.84,192.71 L376.37,192.55 L377.90,192.39 L379.42,192.23 L380.95,192.06 L382.47,191.90 L383.98,191.74 L385.50,191.57 L387.01,191.40 L388.52,191.23 L390.03,191.06 L391.53,190.89 L393.04,190.72 L394.54,190.54 L396.04,190.36 L397.53,190.18 L399.03,190.00 L400.52,189.82 L402.02,189.63 L403.51,189.44 L405.00,189.25 L406.49,189.06 L407.97,188.86 L409.46,188.66 L410.94,188.46 L412.42,188.26 L413.91,188.05 L415.39,187.84 L416.87,187.63 L418.35,187.42 L419.83,187.20 L421.30,186.98 L422.78,186.75 L424.26,186.52 L425.73,186.29 L427.21,186.06 L428.68,185.82 L430.16,185.58 L431.64,185.33 L433.11,185.08 L434.59,184.83 L436.06,184.57 L437.54,184.31 L439.01,184.05 L440.49,183.78 L441.96,183.51 L443.44,183.23 L444.92,182.95 L446.39,182.66 L447.87,182.37 L449.35,182.07 L450.83,181.77 L452.31,181.47 L453.79,181.16 L455.28,180.85 L456.76,180.53 L458.25,180.20 L459.73,179.87 L461.22,179.54 L462.71,179.20 L464.20,178.86 L465.69,178.50 L467.18,178.15 L468.67,177.78 L470.16,177.41 L471.65,177.04 L473.13,176.65 L474.62,176.26 L476.11,175.86 L477.59,175.45 L479.07,175.04 L480.55,174.61 L482.03,174.18 L483.51,173.74 L484.98,173.29 L486.45,172.83 L487.91,172.36 L489.37,171.88 L490.83,171.39 L492.28,170.89 L493.73,170.38 L495.17,169.86 L496.60,169.32 L498.04,168.78 L499.46,168.22 L500.88,167.65 L502.29,167.07 L503.70,166.48 L505.10,165.87 L506.49,165.25 L507.87,164.62 L509.25,163.97 L510.62,163.31 L511.98,162.64 L513.33,161.95 L514.67,161.25 L516.00,160.52 L517.31,159.78 L518.59,159.01 L519.84,158.20 L521.06,157.36 L522.23,156.49 L523.36,155.57 L524.44,154.61 L525.46,153.59 L526.43,152.53 L527.32,151.40 L528.15,150.22 L528.90,148.97 L529.57,147.65 L530.15,146.25 L530.64,144.78 L531.05,143.26 L531.37,141.68 L531.63,140.08 L531.83,138.46 L531.96,136.84 L532.05,135.23 L532.10,133.66 L532.11,132.14 L532.09,130.67 L532.05,129.29 L532.00,128.00" stroke="#006400" class="crv"/>
<path d="M323.20,207.50 L324.46,206.46 L325.80,205.60 L327.15,204.88 L328.51,204.27 L329.89,203.77 L331.28,203.34 L332.68,202.96 L334.09,202.63 L335.52,202.31 L336.95,202.02 L338.40,201.75 L339.85,201.49 L341.32,201.25 L342.79,201.01 L344.27,200.78 L345.76,200.55 L347.25,200.32 L348.75,200.10 L350.26,199.88 L351.77,199.67 L353.29,199.46 L354.81,199.25 L356.34,199.04 L357.87,198.84 L359.40,198.64 L360.94,198.44 L362.47,198.25 L364.01,198.05 L365.55,197.86 L367.09,197.67 L368.63,197.48 L370.16,197.30 L371.70,197.11 L373.23,196.93 L374.76,196.75 L376.29,196.57 L377.82,196.39 L379.34,196.21 L380.87,196.03 L382.39,195.86 L383.90,195.68 L385.42,195.51 L386.93,195.33 L388.45,195.15 L389.96,194.98 L391.47,194.80 L392.97,194.63 L394.48,194.45 L395.98,194.28 L397.48,194.10 L398.98,193.92 L400.48,193.74 L401.98,193.56 L403.47,193.38 L404.97,193.20 L406.46,193.02 L407.96,192.83 L409.45,192.65 L410.94,192.46 L412.43,192.27 L413.91,192.08 L415.40,191.88 L416.89,191.68 L418.37,191.49 L419.86,191.28 L421.34,191.08 L422.82,190.87 L424.31,190.66 L425.79,190.45 L427.27,190.23 L428.75,190.02 L430.23,189.79 L431.71,189.57 L433.19,189.34 L434.67,189.10 L436.15,188.87 L437.63,188.62 L439.11,188.38 L440.59,188.13 L442.07,187.87 L443.55,187.61 L445.03,187.35 L446.52,187.08 L448.00,186.81 L449.48,186.53 L450.96,186.25 L452.44,185.96 L453.92,185.66 L455.41,185.36 L456.89,185.06 L458.38,184.74 L459.86,184.43 L461.35,184.10 L462.84,183.77 L464.32,183.43 L465.81,183.09 L467.30,182.74 L468.78,182.38 L470.27,182.02 L471.76,181.64 L473.24,181.26 L474.73,180.87 L476.21,180.48 L477.69,180.07 L479.17,179.66 L480.65,179.23 L482.12,178.80 L483.59,178.36 L485.06,177.91 L486.53,177.44 L487.99,176.97 L489.45,176.49 L490.91,176.00 L492.36,175.49 L493.81,174.98 L495.26,174.45 L496.70,173.91 L498.13,173.36 L499.56,172.80 L500.99,172.23 L502.41,171.64 L503.82,171.05 L505.23,170.43 L506.64,169.81 L508.03,169.17 L509.42,168.52 L510.81,167.86 L512.18,167.18 L513.55,166.48 L514.92,165.78 L516.26,165.05 L517.59,164.30 L518.89,163.53 L520.16,162.72 L521.39,161.88 L522.58,161.01 L523.71,160.10 L524.80,159.14 L525.82,158.13 L526.77,157.08 L527.65,155.97 L528.45,154.80 L529.17,153.57 L529.80,152.27 L530.33,150.91 L530.76,149.48 L531.09,147.97 L531.34,146.42 L531.51,144.83 L531.63,143.22 L531.71,141.60 L531.75,139.99 L531.78,138.39 L531.80,136.83 L531.84,135.32 L531.89,133.87 L532.00,132.50" stroke="#000000" class="crv"/>
<path d="M323.20,201.00 L323.53,199.43 L324.07,198.04 L324.79,196.80 L325.66,195.69 L326.68,194.70 L327.82,193.82 L329.06,193.04 L330.40,192.34 L331.81,191.71 L333.27,191.15 L334.78,190.63 L336.30,190.15 L337.83,189.69 L339.35,189.25 L340.86,188.83 L342.35,188.41 L343.83,188.00 L345.30,187.60 L346.77,187.22 L348.23,186.84 L349.68,186.46 L351.13,186.10 L352.58,185.74 L354.02,185.38 L355.46,185.03 L356.91,184.68 L358.35,184.33 L359.80,183.99 L361.25,183.65 L362.71,183.31 L364.17,182.97 L365.63,182.63 L367.09,182.30 L368.56,181.97 L370.02,181.64 L371.50,181.31 L372.97,180.98 L374.44,180.66 L375.92,180.33 L377.40,180.01 L378.88,179.69 L380.36,179.38 L381.85,179.06 L383.34,178.75 L384.82,178.44 L386.31,178.13 L387.81,177.82 L389.30,177.52 L390.79,177.22 L392.29,176.92 L393.78,176.62 L395.28,176.32 L396.78,176.03 L398.28,175.73 L399.78,175.44 L401.28,175.15 L402.78,174.87 L404.28,174.58 L405.78,174.30 L407.28,174.02 L408.79,173.74 L410.29,173.47 L411.79,173.19 L413.29,172.92 L414.80,172.65 L416.30,172.38 L417.80,172.12 L419.30,171.85 L420.80,171.59 L422.30,171.33 L423.81,171.07 L425.30,170.82 L426.80,170.56 L428.30,170.31 L429.80,170.06 L431.29,169.82 L432.79,169.57 L434.28,169.33 L435.78,169.08 L437.27,168.84 L438.76,168.60 L440.25,168.36 L441.74,168.12 L443.23,167.88 L444.72,167.63 L446.20,167.39 L447.69,167.15 L449.18,166.90 L450.66,166.66 L452.14,166.41 L453.63,166.16 L455.11,165.91 L456.59,165.65 L458.07,165.39 L459.55,165.13 L461.03,164.87 L462.51,164.60 L463.98,164.33 L465.46,164.06 L466.94,163.78 L468.41,163.49 L469.89,163.21 L471.36,162.91 L472.83,162.61 L474.31,162.31 L475.78,162.00 L477.25,161.68 L478.72,161.36 L480.19,161.03 L481.66,160.69 L483.13,160.35 L484.59,160.00 L486.06,159.64 L487.53,159.28 L488.99,158.90 L490.46,158.52 L491.92,158.13 L493.39,157.73 L494.85,157.32 L496.32,156.91 L497.78,156.48 L499.24,156.04 L500.70,155.59 L502.16,155.14 L503.62,154.67 L505.08,154.19 L506.54,153.70 L508.00,153.20 L509.46,152.68 L510.92,152.16 L512.37,151.62 L513.83,151.07 L515.28,150.50 L516.73,149.92 L518.15,149.30 L519.55,148.66 L520.92,147.98 L522.26,147.26 L523.55,146.49 L524.80,145.66 L525.99,144.78 L527.11,143.84 L528.17,142.83 L529.15,141.74 L530.03,140.58 L530.78,139.33 L531.38,137.99 L531.80,136.55 L532.00,135.00" stroke="#bebebe" class="crv"/>
<rect x="315.2" y="17.5" width="225.30" height="196.80" class="box"/>
<line x1="323.20" y1="214.3" x2="323.20" y2="217.3" class="tick"/>
<text x="323.20" y="225.1" class="tl" text-anchor="middle">0.0</text>
<line x1="365.06" y1="214.3" x2="365.06" y2="217.3" class="tick"/>
<text x="365.06" y="225.1" class="tl" text-anchor="middle">0.2</text>
<line x1="406.92" y1="214.3" x2="406.92" y2="217.3" class="tick"/>
<text x="406.92" y="225.1" class="tl" text-anchor="middle">0.4</text>
<line x1="448.78" y1="214.3" x2="448.78" y2="217.3" class="tick"/>
<text x="448.78" y="225.1" class="tl" text-anchor="middle">0.6</text>
<line x1="490.64" y1="214.3" x2="490.64" y2="217.3" class="tick"/>
<text x="490.64" y="225.1" class="tl" text-anchor="middle">0.8</text>
<line x1="532.50" y1="214.3" x2="532.50" y2="217.3" class="tick"/>
<text x="532.50" y="225.1" class="tl" text-anchor="middle">1.0</text>
<line x1="315.2" y1="189.10" x2="312.6" y2="189.10" class="tick"/>
<text transform="translate(309.0,189.10) rotate(-90)" class="tl" text-anchor="middle">0.4</text>
<line x1="315.2" y1="155.20" x2="312.6" y2="155.20" class="tick"/>
<text transform="translate(309.0,155.20) rotate(-90)" class="tl" text-anchor="middle">0.6</text>
<line x1="315.2" y1="121.30" x2="312.6" y2="121.30" class="tick"/>
<text transform="translate(309.0,121.30) rotate(-90)" class="tl" text-anchor="middle">0.8</text>
<line x1="315.2" y1="87.40" x2="312.6" y2="87.40" class="tick"/>
<text transform="translate(309.0,87.40) rotate(-90)" class="tl" text-anchor="middle">1.0</text>
<line x1="315.2" y1="53.50" x2="312.6" y2="53.50" class="tick"/>
<text transform="translate(309.0,53.50) rotate(-90)" class="tl" text-anchor="middle">1.2</text>
<line x1="315.2" y1="19.60" x2="312.6" y2="19.60" class="tick"/>
<text transform="translate(309.0,19.60) rotate(-90)" class="tl" text-anchor="middle">1.4</text>
<text x="427.85" y="235.2" class="al" text-anchor="middle">Fraction of Design Space</text>
<text transform="translate(295.1,115.90) rotate(-90)" class="al" text-anchor="middle">Relative Prediction Variance</text>
<text transform="translate(427.85,14.40) rotate(0.01)" class="ti" text-anchor="middle">K = 3</text>
<rect x="315.2" y="17.5" width="42.80" height="60.80" class="lbox"/>
<line x1="319.8" y1="25.00" x2="332.6" y2="25.00" stroke="#0000ff" class="lline"/>
<text x="337.6" y="27.10" class="lt">N = 10</text>
<line x1="319.8" y1="32.60" x2="332.6" y2="32.60" stroke="#ff0000" class="lline"/>
<text x="337.6" y="34.70" class="lt">N = 11</text>
<line x1="319.8" y1="40.20" x2="332.6" y2="40.20" stroke="#a020f0" class="lline"/>
<text x="337.6" y="42.30" class="lt">N = 12</text>
<line x1="319.8" y1="47.80" x2="332.6" y2="47.80" stroke="#ffa500" class="lline"/>
<text x="337.6" y="49.90" class="lt">N = 13</text>
<line x1="319.8" y1="55.40" x2="332.6" y2="55.40" stroke="#006400" class="lline"/>
<text x="337.6" y="57.50" class="lt">N = 14</text>
<line x1="319.8" y1="63.00" x2="332.6" y2="63.00" stroke="#000000" class="lline"/>
<text x="337.6" y="65.10" class="lt">N = 15</text>
<line x1="319.8" y1="70.60" x2="332.6" y2="70.60" stroke="#bebebe" class="lline"/>
<text x="337.6" y="72.70" class="lt">N = 16</text>
<line x1="41.20" y1="264.5" x2="41.20" y2="461.3" class="grid"/>
<line x1="83.06" y1="264.5" x2="83.06" y2="461.3" class="grid"/>
<line x1="124.92" y1="264.5" x2="124.92" y2="461.3" class="grid"/>
<line x1="166.78" y1="264.5" x2="166.78" y2="461.3" class="grid"/>
<line x1="208.64" y1="264.5" x2="208.64" y2="461.3" class="grid"/>
<line x1="250.50" y1="264.5" x2="250.50" y2="461.3" class="grid"/>
<line x1="33.4" y1="434.40" x2="258.5" y2="434.40" class="grid"/>
<line x1="33.4" y1="401.00" x2="258.5" y2="401.00" class="grid"/>
<line x1="33.4" y1="367.60" x2="258.5" y2="367.60" class="grid"/>
<line x1="33.4" y1="334.20" x2="258.5" y2="334.20" class="grid"/>
<line x1="33.4" y1="300.80" x2="258.5" y2="300.80" class="grid"/>
<line x1="33.4" y1="267.40" x2="258.5" y2="267.40" class="grid"/>
<path d="M41.40,417.50 L41.42,415.95 L41.49,414.39 L41.60,412.84 L41.77,411.30 L41.98,409.78 L42.25,408.28 L42.57,406.79 L42.95,405.34 L43.38,403.91 L43.86,402.51 L44.41,401.13 L45.01,399.80 L45.68,398.49 L46.40,397.23 L47.19,396.00 L48.03,394.81 L48.92,393.66 L49.86,392.54 L50.85,391.45 L51.89,390.40 L52.96,389.37 L54.07,388.37 L55.22,387.40 L56.40,386.46 L57.61,385.54 L58.84,384.64 L60.09,383.77 L61.37,382.92 L62.65,382.08 L63.96,381.27 L65.27,380.47 L66.59,379.68 L67.91,378.92 L69.23,378.16 L70.56,377.42 L71.90,376.69 L73.23,375.98 L74.57,375.27 L75.91,374.58 L77.26,373.91 L78.61,373.24 L79.96,372.59 L81.32,371.94 L82.68,371.31 L84.04,370.69 L85.41,370.08 L86.78,369.49 L88.15,368.90 L89.52,368.32 L90.90,367.75 L92.28,367.19 L93.67,366.64 L95.06,366.10 L96.45,365.56 L97.84,365.04 L99.23,364.52 L100.63,364.01 L102.03,363.51 L103.44,363.02 L104.85,362.53 L106.26,362.05 L107.67,361.58 L109.08,361.11 L110.50,360.65 L111.92,360.19 L113.34,359.74 L114.77,359.30 L116.19,358.86 L117.62,358.42 L119.06,357.99 L120.49,357.56 L121.93,357.14 L123.37,356.72 L124.81,356.31 L126.25,355.89 L127.70,355.48 L129.15,355.08 L130.60,354.67 L132.05,354.27 L133.50,353.87 L134.96,353.47 L136.42,353.07 L137.88,352.67 L139.34,352.28 L140.80,351.88 L142.27,351.48 L143.74,351.09 L145.21,350.69 L146.68,350.30 L148.15,349.90 L149.63,349.50 L151.10,349.10 L152.58,348.70 L154.06,348.29 L155.54,347.89 L157.03,347.48 L158.51,347.07 L160.00,346.66 L161.48,346.24 L162.97,345.82 L164.46,345.40 L165.95,344.97 L167.45,344.54 L168.94,344.10 L170.43,343.66 L171.93,343.21 L173.42,342.77 L174.92,342.31 L176.41,341.85 L177.90,341.39 L179.39,340.92 L180.88,340.45 L182.37,339.97 L183.85,339.49 L185.33,339.00 L186.81,338.51 L188.29,338.01 L189.76,337.51 L191.22,337.00 L192.68,336.49 L194.14,335.97 L195.59,335.44 L197.03,334.92 L198.47,334.38 L199.90,333.84 L201.32,333.30 L202.74,332.75 L204.14,332.19 L205.54,331.63 L206.93,331.06 L208.32,330.49 L209.69,329.91 L211.05,329.33 L212.40,328.74 L213.74,328.13 L215.08,327.52 L216.40,326.90 L217.70,326.26 L219.00,325.61 L220.28,324.94 L221.56,324.26 L222.81,323.55 L224.06,322.83 L225.29,322.08 L226.51,321.31 L227.71,320.51 L228.89,319.69 L230.07,318.84 L231.22,317.97 L232.36,317.06 L233.48,316.12 L234.59,315.15 L235.68,314.15 L236.75,313.10 L237.80,312.03 L238.84,310.91 L239.85,309.76 L240.83,308.58 L241.78,307.36 L242.69,306.12 L243.57,304.84 L244.40,303.54 L245.19,302.21 L245.93,300.86 L246.61,299.49 L247.24,298.09 L247.81,296.68 L248.32,295.25 L248.76,293.80 L249.14,292.34 L249.45,290.86 L249.71,289.37 L249.92,287.88 L250.09,286.37 L250.21,284.86 L250.30,283.34 L250.35,281.82 L250.37,280.30 L250.38,278.77 L250.36,277.25 L250.33,275.73 L250.28,274.21 L250.23,272.70 L250.20,271.20" stroke="#0000ff" class="crv"/>
<path d="M41.40,430.50 L41.17,428.82 L41.10,427.18 L41.13,425.59 L41.27,424.05 L41.51,422.57 L41.85,421.13 L42.28,419.75 L42.80,418.41 L43.41,417.12 L44.09,415.88 L44.85,414.68 L45.68,413.53 L46.57,412.42 L47.53,411.36 L48.54,410.33 L49.61,409.35 L50.72,408.40 L51.88,407.48 L53.08,406.60 L54.32,405.74 L55.59,404.92 L56.89,404.12 L58.22,403.35 L59.57,402.59 L60.94,401.86 L62.32,401.15 L63.71,400.45 L65.11,399.77 L66.51,399.10 L67.91,398.44 L69.31,397.79 L70.71,397.15 L72.11,396.53 L73.51,395.91 L74.92,395.30 L76.32,394.71 L77.73,394.12 L79.14,393.54 L80.54,392.97 L81.95,392.41 L83.36,391.86 L84.77,391.32 L86.18,390.79 L87.59,390.26 L89.01,389.74 L90.42,389.23 L91.84,388.72 L93.25,388.22 L94.67,387.73 L96.09,387.24 L97.50,386.77 L98.92,386.29 L100.34,385.82 L101.76,385.36 L103.19,384.90 L104.61,384.45 L106.03,384.00 L107.46,383.55 L108.88,383.11 L110.31,382.68 L111.74,382.24 L113.17,381.81 L114.60,381.38 L116.03,380.96 L117.46,380.54 L118.89,380.11 L120.33,379.70 L121.76,379.28 L123.20,378.86 L124.63,378.45 L126.07,378.04 L127.51,377.62 L128.95,377.21 L130.39,376.80 L131.83,376.38 L133.28,375.96 L134.72,375.55 L136.17,375.12 L137.61,374.70 L139.06,374.27 L140.51,373.84 L141.96,373.40 L143.41,372.96 L144.86,372.51 L146.31,372.05 L147.77,371.59 L149.22,371.13 L150.68,370.66 L152.13,370.18 L153.59,369.71 L155.05,369.23 L156.51,368.75 L157.98,368.27 L159.44,367.79 L160.90,367.31 L162.37,366.83 L163.83,366.35 L165.30,365.88 L166.77,365.41 L168.24,364.95 L169.71,364.49 L171.18,364.03 L172.65,363.58 L174.12,363.13 L175.60,362.68 L177.07,362.23 L178.53,361.78 L180.00,361.33 L181.47,360.88 L182.93,360.42 L184.39,359.97 L185.85,359.51 L187.31,359.05 L188.76,358.58 L190.21,358.11 L191.65,357.64 L193.09,357.15 L194.52,356.66 L195.95,356.17 L197.38,355.66 L198.80,355.15 L200.21,354.62 L201.62,354.09 L203.02,353.54 L204.41,352.99 L205.80,352.42 L207.18,351.84 L208.55,351.25 L209.91,350.64 L211.26,350.02 L212.61,349.38 L213.95,348.73 L215.27,348.06 L216.59,347.37 L217.90,346.67 L219.19,345.94 L220.48,345.20 L221.75,344.44 L223.01,343.66 L224.26,342.86 L225.50,342.03 L226.73,341.19 L227.94,340.32 L229.14,339.43 L230.33,338.51 L231.50,337.57 L232.66,336.60 L233.80,335.61 L234.93,334.60 L236.03,333.56 L237.10,332.49 L238.15,331.40 L239.18,330.29 L240.17,329.15 L241.13,327.99 L242.05,326.80 L242.94,325.59 L243.78,324.35 L244.59,323.09 L245.35,321.81 L246.06,320.50 L246.73,319.17 L247.34,317.82 L247.90,316.44 L248.41,315.04 L248.86,313.61 L249.25,312.16 L249.57,310.69 L249.84,309.19 L250.03,307.68 L250.16,306.13 L250.21,304.57 L250.20,303.00" stroke="#ff0000" class="crv"/>
<path d="M41.40,441.00 L41.23,439.40 L41.19,437.82 L41.29,436.27 L41.51,434.74 L41.85,433.26 L42.31,431.81 L42.87,430.42 L43.53,429.08 L44.29,427.81 L45.14,426.60 L46.07,425.46 L47.09,424.39 L48.17,423.41 L49.33,422.52 L50.54,421.70 L51.82,420.96 L53.14,420.28 L54.51,419.67 L55.92,419.10 L57.36,418.59 L58.83,418.11 L60.32,417.66 L61.83,417.25 L63.35,416.85 L64.88,416.46 L66.40,416.09 L67.93,415.71 L69.45,415.34 L70.96,414.97 L72.47,414.60 L73.98,414.24 L75.49,413.87 L76.99,413.51 L78.49,413.15 L79.99,412.79 L81.48,412.44 L82.97,412.09 L84.46,411.74 L85.95,411.39 L87.43,411.04 L88.91,410.70 L90.39,410.36 L91.87,410.02 L93.34,409.68 L94.82,409.35 L96.29,409.01 L97.76,408.68 L99.23,408.36 L100.70,408.03 L102.16,407.71 L103.63,407.39 L105.09,407.07 L106.55,406.75 L108.02,406.43 L109.48,406.12 L110.94,405.81 L112.40,405.50 L113.86,405.20 L115.32,404.89 L116.78,404.59 L118.25,404.29 L119.71,403.99 L121.17,403.70 L122.63,403.40 L124.09,403.11 L125.55,402.82 L127.02,402.54 L128.48,402.25 L129.95,401.97 L131.41,401.69 L132.88,401.41 L134.35,401.13 L135.82,400.86 L137.29,400.59 L138.77,400.32 L140.24,400.05 L141.72,399.78 L143.20,399.52 L144.68,399.26 L146.17,399.00 L147.65,398.74 L149.14,398.49 L150.63,398.24 L152.13,397.98 L153.62,397.74 L155.12,397.49 L156.62,397.24 L158.13,397.00 L159.64,396.76 L161.15,396.52 L162.67,396.29 L164.19,396.05 L165.71,395.82 L167.24,395.59 L168.77,395.36 L170.30,395.13 L171.84,394.91 L173.38,394.68 L174.92,394.45 L176.47,394.22 L178.01,393.99 L179.56,393.76 L181.10,393.52 L182.65,393.28 L184.19,393.04 L185.74,392.79 L187.28,392.54 L188.82,392.28 L190.36,392.01 L191.89,391.74 L193.43,391.45 L194.96,391.16 L196.49,390.87 L198.01,390.56 L199.53,390.24 L201.04,389.91 L202.55,389.57 L204.05,389.22 L205.54,388.85 L207.03,388.48 L208.51,388.08 L209.99,387.68 L211.45,387.26 L212.91,386.82 L214.36,386.37 L215.80,385.90 L217.23,385.42 L218.65,384.91 L220.06,384.39 L221.46,383.85 L222.85,383.29 L224.23,382.71 L225.59,382.11 L226.95,381.48 L228.29,380.84 L229.61,380.17 L230.92,379.48 L232.22,378.77 L233.51,378.03 L234.78,377.27 L236.03,376.48 L237.27,375.66 L238.49,374.82 L239.70,373.95 L240.88,373.05 L242.03,372.12 L243.14,371.14 L244.21,370.12 L245.22,369.05 L246.17,367.92 L247.04,366.73 L247.83,365.48 L248.54,364.16 L249.15,362.79 L249.65,361.36 L250.04,359.88 L250.31,358.36 L250.45,356.81 L250.45,355.23 L250.31,353.62 L250.00,352.00" stroke="#a020f0" class="crv"/>
<path d="M41.40,455.00 L41.26,453.26 L41.38,451.65 L41.71,450.16 L42.22,448.80 L42.91,447.56 L43.75,446.43 L44.72,445.40 L45.80,444.47 L46.96,443.63 L48.20,442.88 L49.49,442.21 L50.83,441.61 L52.21,441.07 L53.63,440.59 L55.08,440.17 L56.56,439.79 L58.07,439.45 L59.59,439.14 L61.14,438.86 L62.69,438.61 L64.24,438.36 L65.80,438.12 L67.35,437.89 L68.90,437.65 L70.45,437.42 L71.99,437.19 L73.52,436.95 L75.05,436.72 L76.58,436.49 L78.11,436.26 L79.63,436.03 L81.15,435.80 L82.66,435.57 L84.17,435.34 L85.68,435.11 L87.19,434.88 L88.69,434.66 L90.19,434.43 L91.68,434.21 L93.18,433.98 L94.67,433.76 L96.16,433.54 L97.65,433.32 L99.13,433.10 L100.61,432.88 L102.10,432.66 L103.58,432.44 L105.05,432.22 L106.53,432.01 L108.01,431.79 L109.48,431.58 L110.95,431.37 L112.43,431.16 L113.90,430.95 L115.37,430.74 L116.84,430.53 L118.31,430.32 L119.78,430.12 L121.24,429.92 L122.71,429.71 L124.18,429.51 L125.65,429.31 L127.12,429.11 L128.59,428.91 L130.06,428.72 L131.53,428.52 L133.00,428.33 L134.47,428.14 L135.94,427.95 L137.41,427.76 L138.89,427.57 L140.36,427.38 L141.84,427.20 L143.32,427.02 L144.80,426.84 L146.28,426.66 L147.76,426.48 L149.25,426.30 L150.74,426.13 L152.23,425.95 L153.72,425.78 L155.21,425.61 L156.71,425.44 L158.21,425.28 L159.71,425.11 L161.22,424.95 L162.73,424.79 L164.24,424.63 L165.75,424.47 L167.27,424.32 L168.79,424.16 L170.32,424.01 L171.84,423.86 L173.37,423.71 L174.90,423.55 L176.44,423.40 L177.97,423.24 L179.50,423.08 L181.04,422.92 L182.58,422.76 L184.11,422.59 L185.65,422.42 L187.18,422.24 L188.71,422.05 L190.25,421.86 L191.78,421.67 L193.31,421.46 L194.83,421.25 L196.35,421.03 L197.88,420.80 L199.39,420.56 L200.91,420.31 L202.41,420.05 L203.92,419.78 L205.42,419.50 L206.92,419.20 L208.41,418.89 L209.89,418.57 L211.37,418.23 L212.84,417.88 L214.31,417.52 L215.77,417.14 L217.22,416.74 L218.66,416.32 L220.10,415.89 L221.53,415.44 L222.95,414.97 L224.36,414.49 L225.76,413.98 L227.15,413.45 L228.53,412.91 L229.90,412.34 L231.26,411.75 L232.61,411.13 L233.95,410.50 L235.28,409.84 L236.59,409.15 L237.90,408.45 L239.19,407.71 L240.46,406.95 L241.71,406.15 L242.91,405.30 L244.06,404.39 L245.14,403.41 L246.15,402.36 L247.07,401.21 L247.88,399.97 L248.59,398.64 L249.18,397.22 L249.67,395.75 L250.04,394.23 L250.30,392.68 L250.45,391.11 L250.48,389.55 L250.39,388.00 L250.20,386.50" stroke="#ffa500" class="crv"/>
<rect x="33.4" y="264.5" width="225.10" height="196.80" class="box"/>
<line x1="41.20" y1="461.3" x2="41.20" y2="464.3" class="tick"/>
<text x="41.20" y="472.1" class="tl" text-anchor="middle">0.0</text>
<line x1="83.06" y1="461.3" x2="83.06" y2="464.3" class="tick"/>
<text x="83.06" y="472.1" class="tl" text-anchor="middle">0.2</text>
<line x1="124.92" y1="461.3" x2="124.92" y2="464.3" class="tick"/>
<text x="124.92" y="472.1" class="tl" text-anchor="middle">0.4</text>
<line x1="166.78" y1="461.3" x2="166.78" y2="464.3" class="tick"/>
<text x="166.78" y="472.1" class="tl" text-anchor="middle">0.6</text>
<line x1="208.64" y1="461.3" x2="208.64" y2="464.3" class="tick"/>
<text x="208.64" y="472.1" class="tl" text-anchor="middle">0.8</text>
<line x1="250.50" y1="461.3" x2="250.50" y2="464.3" class="tick"/>
<text x="250.50" y="472.1" class="tl" text-anchor="middle">1.0</text>
<line x1="33.4" y1="434.40" x2="30.8" y2="434.40" class="tick"/>
<text transform="translate(27.2,434.40) rotate(-90)" class="tl" text-anchor="middle">0.4</text>
<line x1="33.4" y1="401.00" x2="30.8" y2="401.00" class="tick"/>
<text transform="translate(27.2,401.00) rotate(-90)" class="tl" text-anchor="middle">0.6</text>
<line x1="33.4" y1="367.60" x2="30.8" y2="367.60" class="tick"/>
<text transform="translate(27.2,367.60) rotate(-90)" class="tl" text-anchor="middle">0.8</text>
<line x1="33.4" y1="334.20" x2="30.8" y2="334.20" class="tick"/>
<text transform="translate(27.2,334.20) rotate(-90)" class="tl" text-anchor="middle">1.0</text>
<line x1="33.4" y1="300.80" x2="30.8" y2="300.80" class="tick"/>
<text transform="translate(27.2,300.80) rotate(-90)" class="tl" text-anchor="middle">1.2</text>
<line x1="33.4" y1="267.40" x2="30.8" y2="267.40" class="tick"/>
<text transform="translate(27.2,267.40) rotate(-90)" class="tl" text-anchor="middle">1.4</text>
<text x="145.95" y="482.2" class="al" text-anchor="middle">Fraction of Design Space</text>
<text transform="translate(13.3,362.90) rotate(-90)" class="al" text-anchor="middle">Relative Prediction Variance</text>
<text transform="translate(145.95,261.40) rotate(0.01)" class="ti" text-anchor="middle">K = 4</text>
<rect x="33.4" y="264.5" width="42.80" height="38.00" class="lbox"/>
<line x1="38.0" y1="272.00" x2="50.8" y2="272.00" stroke="#0000ff" class="lline"/>
<text x="55.8" y="274.10" class="lt">N = 15</text>
<line x1="38.0" y1="279.60" x2="50.8" y2="279.60" stroke="#ff0000" class="lline"/>
<text x="55.8" y="281.70" class="lt">N = 17</text>
<line x1="38.0" y1="287.20" x2="50.8" y2="287.20" stroke="#a020f0" class="lline"/>
<text x="55.8" y="289.30" class="lt">N = 20</text>
<line x1="38.0" y1="294.80" x2="50.8" y2="294.80" stroke="#ffa500" class="lline"/>
<text x="55.8" y="296.90" class="lt">N = 24</text>
<line x1="323.20" y1="264.5" x2="323.20" y2="461.3" class="grid"/>
<line x1="365.06" y1="264.5" x2="365.06" y2="461.3" class="grid"/>
<line x1="406.92" y1="264.5" x2="406.92" y2="461.3" class="grid"/>
<line x1="448.78" y1="264.5" x2="448.78" y2="461.3" class="grid"/>
<line x1="490.64" y1="264.5" x2="490.64" y2="461.3" class="grid"/>
<line x1="532.50" y1="264.5" x2="532.50" y2="461.3" class="grid"/>
<line x1="315.2" y1="431.30" x2="540.5" y2="431.30" class="grid"/>
<line x1="315.2" y1="394.70" x2="540.5" y2="394.70" class="grid"/>
<line x1="315.2" y1="358.10" x2="540.5" y2="358.10" class="grid"/>
<line x1="315.2" y1="321.50" x2="540.5" y2="321.50" class="grid"/>
<line x1="315.2" y1="284.90" x2="540.5" y2="284.90" class="grid"/>
<path d="M323.40,415.00 L323.40,413.34 L323.49,411.71 L323.66,410.12 L323.91,408.57 L324.23,407.06 L324.62,405.60 L325.09,404.17 L325.62,402.79 L326.22,401.45 L326.88,400.14 L327.60,398.88 L328.38,397.65 L329.21,396.46 L330.10,395.31 L331.03,394.19 L332.01,393.11 L333.03,392.06 L334.10,391.05 L335.20,390.07 L336.35,389.12 L337.52,388.20 L338.73,387.31 L339.97,386.45 L341.24,385.61 L342.53,384.80 L343.85,384.01 L345.19,383.25 L346.55,382.50 L347.93,381.78 L349.32,381.08 L350.72,380.39 L352.14,379.72 L353.56,379.06 L354.99,378.42 L356.42,377.79 L357.86,377.17 L359.29,376.56 L360.73,375.96 L362.16,375.37 L363.59,374.78 L365.03,374.21 L366.46,373.64 L367.89,373.09 L369.32,372.54 L370.75,371.99 L372.18,371.46 L373.61,370.93 L375.04,370.42 L376.46,369.90 L377.89,369.40 L379.32,368.90 L380.75,368.41 L382.17,367.92 L383.60,367.44 L385.03,366.97 L386.45,366.50 L387.88,366.04 L389.31,365.58 L390.73,365.13 L392.16,364.68 L393.59,364.24 L395.01,363.80 L396.44,363.37 L397.87,362.94 L399.29,362.51 L400.72,362.09 L402.15,361.67 L403.58,361.26 L405.01,360.85 L406.44,360.44 L407.87,360.03 L409.30,359.63 L410.73,359.23 L412.16,358.83 L413.59,358.43 L415.03,358.04 L416.46,357.65 L417.90,357.25 L419.33,356.86 L420.77,356.48 L422.21,356.09 L423.64,355.70 L425.08,355.31 L426.53,354.93 L427.97,354.54 L429.41,354.15 L430.85,353.77 L432.30,353.38 L433.75,352.99 L435.19,352.60 L436.64,352.21 L438.09,351.82 L439.55,351.43 L441.00,351.03 L442.45,350.63 L443.91,350.24 L445.37,349.84 L446.83,349.43 L448.29,349.03 L449.75,348.62 L451.22,348.21 L452.69,347.79 L454.15,347.37 L455.62,346.95 L457.10,346.53 L458.57,346.10 L460.05,345.66 L461.53,345.22 L463.01,344.78 L464.49,344.33 L465.97,343.88 L467.46,343.42 L468.95,342.96 L470.44,342.49 L471.93,342.02 L473.42,341.54 L474.92,341.05 L476.41,340.55 L477.89,340.04 L479.38,339.53 L480.86,339.00 L482.33,338.47 L483.81,337.92 L485.27,337.36 L486.73,336.80 L488.18,336.21 L489.62,335.62 L491.05,335.01 L492.47,334.39 L493.89,333.75 L495.29,333.10 L496.67,332.43 L498.05,331.75 L499.41,331.05 L500.75,330.33 L502.08,329.60 L503.40,328.84 L504.69,328.07 L505.97,327.28 L507.23,326.46 L508.47,325.63 L509.70,324.78 L510.90,323.90 L512.07,323.00 L513.23,322.08 L514.36,321.13 L515.47,320.16 L516.55,319.17 L517.61,318.15 L518.64,317.11 L519.65,316.04 L520.62,314.94 L521.57,313.82 L522.49,312.66 L523.37,311.48 L524.23,310.28 L525.05,309.04 L525.84,307.78 L526.59,306.49 L527.30,305.18 L527.97,303.85 L528.60,302.50 L529.18,301.12 L529.71,299.73 L530.20,298.32 L530.63,296.89 L531.01,295.45 L531.34,293.99 L531.61,292.52 L531.83,291.04 L531.99,289.55 L532.10,288.05 L532.17,286.53 L532.21,285.01 L532.22,283.49 L532.22,281.96 L532.20,280.42 L532.17,278.88 L532.15,277.34 L532.13,275.80 L532.12,274.26 L532.14,272.72 L532.20,271.20" stroke="#0000ff" class="crv"/>
<path d="M323.20,430.00 L323.35,428.50 L323.49,426.99 L323.61,425.46 L323.73,423.93 L323.85,422.39 L323.98,420.86 L324.14,419.34 L324.32,417.82 L324.53,416.32 L324.79,414.85 L325.10,413.39 L325.46,411.96 L325.89,410.57 L326.40,409.21 L326.98,407.88 L327.66,406.61 L328.42,405.38 L329.27,404.19 L330.19,403.05 L331.19,401.95 L332.26,400.90 L333.39,399.88 L334.57,398.91 L335.81,397.98 L337.10,397.09 L338.42,396.24 L339.78,395.43 L341.17,394.66 L342.59,393.92 L344.02,393.23 L345.47,392.57 L346.93,391.94 L348.38,391.35 L349.84,390.79 L351.30,390.27 L352.75,389.77 L354.21,389.30 L355.66,388.85 L357.11,388.43 L358.57,388.03 L360.02,387.65 L361.47,387.28 L362.92,386.92 L364.36,386.58 L365.81,386.24 L367.26,385.91 L368.71,385.59 L370.15,385.26 L371.60,384.94 L373.05,384.61 L374.49,384.28 L375.94,383.94 L377.38,383.60 L378.83,383.25 L380.27,382.90 L381.72,382.54 L383.16,382.18 L384.61,381.82 L386.05,381.45 L387.50,381.08 L388.94,380.71 L390.39,380.33 L391.83,379.95 L393.28,379.56 L394.72,379.18 L396.17,378.79 L397.62,378.40 L399.07,378.00 L400.52,377.61 L401.96,377.21 L403.41,376.82 L404.86,376.42 L406.32,376.02 L407.77,375.62 L409.22,375.22 L410.68,374.82 L412.13,374.41 L413.59,374.01 L415.04,373.61 L416.50,373.21 L417.96,372.81 L419.42,372.41 L420.89,372.02 L422.35,371.62 L423.81,371.23 L425.28,370.83 L426.75,370.44 L428.22,370.05 L429.69,369.67 L431.16,369.28 L432.64,368.90 L434.11,368.52 L435.59,368.15 L437.07,367.77 L438.55,367.41 L440.04,367.04 L441.52,366.68 L443.01,366.32 L444.50,365.97 L445.99,365.62 L447.49,365.28 L448.98,364.94 L450.48,364.61 L451.98,364.28 L453.49,363.96 L454.99,363.63 L456.49,363.31 L458.00,362.99 L459.50,362.67 L461.00,362.35 L462.51,362.03 L464.01,361.71 L465.51,361.39 L467.01,361.06 L468.50,360.73 L470.00,360.40 L471.49,360.05 L472.98,359.71 L474.46,359.35 L475.94,358.99 L477.42,358.62 L478.89,358.25 L480.35,357.86 L481.81,357.46 L483.26,357.05 L484.71,356.63 L486.15,356.20 L487.59,355.75 L489.01,355.29 L490.43,354.81 L491.84,354.32 L493.25,353.82 L494.64,353.29 L496.02,352.75 L497.40,352.19 L498.76,351.61 L500.12,351.01 L501.46,350.39 L502.79,349.75 L504.11,349.09 L505.42,348.41 L506.72,347.70 L508.00,346.96 L509.27,346.21 L510.53,345.42 L511.78,344.61 L513.01,343.78 L514.22,342.91 L515.43,342.02 L516.61,341.10 L517.78,340.14 L518.94,339.16 L520.08,338.15 L521.20,337.10 L522.29,336.02 L523.36,334.91 L524.38,333.77 L525.36,332.60 L526.28,331.40 L527.13,330.17 L527.91,328.91 L528.61,327.62 L529.23,326.30 L529.76,324.95 L530.20,323.57 L530.58,322.17 L530.89,320.74 L531.15,319.28 L531.36,317.80 L531.53,316.29 L531.66,314.77 L531.76,313.24 L531.84,311.70 L531.91,310.15 L531.95,308.61 L532.00,307.06 L532.04,305.52 L532.08,304.00 L532.13,302.48 L532.20,301.00" stroke="#ff0000" class="crv"/>
<path d="M323.20,455.00 L322.94,453.43 L322.73,451.84 L322.60,450.26 L322.55,448.70 L322.57,447.14 L322.66,445.61 L322.83,444.10 L323.08,442.61 L323.39,441.15 L323.79,439.73 L324.25,438.34 L324.79,436.99 L325.39,435.68 L326.07,434.42 L326.82,433.21 L327.64,432.05 L328.53,430.95 L329.49,429.91 L330.52,428.93 L331.60,428.00 L332.74,427.12 L333.93,426.28 L335.17,425.49 L336.45,424.75 L337.77,424.04 L339.13,423.36 L340.51,422.71 L341.91,422.09 L343.34,421.50 L344.78,420.93 L346.23,420.37 L347.68,419.83 L349.14,419.30 L350.60,418.78 L352.06,418.27 L353.52,417.77 L354.98,417.28 L356.44,416.80 L357.90,416.33 L359.37,415.87 L360.83,415.42 L362.30,414.97 L363.76,414.54 L365.23,414.11 L366.70,413.70 L368.17,413.29 L369.63,412.88 L371.10,412.49 L372.57,412.10 L374.05,411.72 L375.52,411.35 L376.99,410.99 L378.46,410.63 L379.94,410.27 L381.41,409.93 L382.89,409.59 L384.36,409.25 L385.84,408.92 L387.31,408.60 L388.79,408.28 L390.27,407.97 L391.75,407.66 L393.22,407.36 L394.70,407.06 L396.18,406.76 L397.66,406.47 L399.14,406.19 L400.62,405.90 L402.10,405.62 L403.58,405.35 L405.07,405.07 L406.55,404.80 L408.03,404.53 L409.51,404.26 L410.99,404.00 L412.48,403.74 L413.96,403.48 L415.44,403.22 L416.93,402.96 L418.41,402.70 L419.89,402.45 L421.38,402.19 L422.86,401.94 L424.34,401.69 L425.83,401.43 L427.31,401.18 L428.80,400.93 L430.28,400.67 L431.76,400.42 L433.25,400.16 L434.73,399.90 L436.22,399.64 L437.70,399.38 L439.18,399.12 L440.67,398.86 L442.15,398.59 L443.64,398.32 L445.12,398.05 L446.60,397.78 L448.09,397.50 L449.57,397.23 L451.05,396.94 L452.53,396.66 L454.01,396.37 L455.50,396.07 L456.98,395.77 L458.46,395.47 L459.94,395.16 L461.41,394.84 L462.89,394.52 L464.37,394.20 L465.84,393.86 L467.32,393.52 L468.79,393.17 L470.26,392.82 L471.73,392.46 L473.20,392.09 L474.67,391.71 L476.13,391.32 L477.60,390.93 L479.06,390.52 L480.52,390.11 L481.98,389.68 L483.43,389.25 L484.89,388.80 L486.34,388.35 L487.79,387.88 L489.23,387.40 L490.68,386.91 L492.12,386.41 L493.56,385.89 L495.00,385.37 L496.43,384.83 L497.86,384.28 L499.29,383.71 L500.71,383.13 L502.13,382.54 L503.55,381.93 L504.96,381.30 L506.37,380.66 L507.77,380.00 L509.15,379.33 L510.51,378.62 L511.86,377.90 L513.18,377.15 L514.48,376.37 L515.74,375.57 L516.98,374.73 L518.18,373.86 L519.34,372.96 L520.46,372.03 L521.54,371.05 L522.56,370.04 L523.54,368.99 L524.46,367.89 L525.33,366.76 L526.13,365.57 L526.88,364.35 L527.57,363.08 L528.20,361.77 L528.78,360.43 L529.30,359.06 L529.77,357.66 L530.19,356.23 L530.56,354.77 L530.89,353.30 L531.17,351.80 L531.40,350.29 L531.59,348.76 L531.75,347.23 L531.87,345.68 L531.96,344.14 L532.02,342.58 L532.06,341.03 L532.09,339.48 L532.10,337.94 L532.10,336.40 L532.10,334.87 L532.10,333.36 L532.10,331.87 L532.12,330.39 L532.15,328.94 L532.20,327.50" stroke="#a020f0" class="crv"/>
<path d="M323.20,447.00 L322.96,445.28 L322.85,443.60 L322.87,441.99 L323.01,440.45 L323.27,438.97 L323.64,437.55 L324.11,436.20 L324.69,434.91 L325.36,433.69 L326.12,432.52 L326.97,431.42 L327.90,430.37 L328.90,429.39 L329.97,428.46 L331.11,427.58 L332.30,426.76 L333.55,425.97 L334.85,425.24 L336.19,424.54 L337.57,423.87 L338.98,423.24 L340.42,422.64 L341.88,422.07 L343.36,421.52 L344.86,420.99 L346.35,420.47 L347.85,419.97 L349.35,419.48 L350.84,419.00 L352.33,418.53 L353.82,418.07 L355.30,417.61 L356.78,417.17 L358.26,416.73 L359.74,416.31 L361.21,415.89 L362.68,415.48 L364.14,415.07 L365.61,414.68 L367.07,414.29 L368.53,413.91 L369.99,413.53 L371.45,413.16 L372.90,412.80 L374.35,412.45 L375.81,412.10 L377.26,411.76 L378.71,411.42 L380.16,411.09 L381.61,410.76 L383.06,410.44 L384.50,410.13 L385.95,409.82 L387.40,409.51 L388.85,409.21 L390.29,408.91 L391.74,408.61 L393.19,408.32 L394.64,408.04 L396.09,407.75 L397.54,407.47 L398.99,407.19 L400.44,406.92 L401.90,406.65 L403.35,406.38 L404.81,406.11 L406.27,405.84 L407.73,405.58 L409.19,405.31 L410.65,405.05 L412.12,404.79 L413.59,404.53 L415.06,404.27 L416.54,404.01 L418.01,403.75 L419.49,403.49 L420.98,403.23 L422.46,402.97 L423.95,402.71 L425.45,402.45 L426.95,402.19 L428.45,401.93 L429.95,401.66 L431.46,401.40 L432.97,401.13 L434.49,400.86 L436.00,400.59 L437.52,400.31 L439.05,400.04 L440.57,399.76 L442.09,399.48 L443.62,399.20 L445.15,398.91 L446.67,398.62 L448.20,398.33 L449.73,398.04 L451.26,397.74 L452.78,397.44 L454.31,397.13 L455.84,396.82 L457.36,396.51 L458.88,396.19 L460.40,395.87 L461.92,395.55 L463.44,395.22 L464.95,394.89 L466.46,394.55 L467.97,394.20 L469.47,393.86 L470.97,393.50 L472.46,393.15 L473.95,392.78 L475.44,392.41 L476.92,392.04 L478.39,391.66 L479.86,391.27 L481.33,390.88 L482.78,390.48 L484.23,390.08 L485.68,389.67 L487.11,389.25 L488.54,388.83 L489.97,388.40 L491.38,387.96 L492.79,387.51 L494.18,387.06 L495.57,386.60 L496.95,386.13 L498.32,385.65 L499.68,385.16 L501.03,384.65 L502.37,384.12 L503.70,383.57 L505.02,383.01 L506.33,382.42 L507.63,381.81 L508.91,381.17 L510.19,380.50 L511.45,379.81 L512.70,379.08 L513.93,378.32 L515.16,377.53 L516.37,376.70 L517.56,375.83 L518.75,374.92 L519.91,373.97 L521.07,372.97 L522.20,371.94 L523.31,370.86 L524.38,369.74 L525.41,368.59 L526.39,367.39 L527.32,366.16 L528.18,364.90 L528.98,363.60 L529.70,362.28 L530.33,360.92 L530.88,359.53 L531.32,358.11 L531.67,356.67 L531.90,355.20 L532.04,353.71 L532.10,352.20 L532.13,350.67 L532.13,349.12 L532.14,347.56 L532.20,346.00" stroke="#ffa500" class="crv"/>
<rect x="315.2" y="264.5" width="225.30" height="196.80" class="box"/>
<line x1="323.20" y1="461.3" x2="323.20" y2="464.3" class="tick"/>
<text x="323.20" y="472.1" class="tl" text-anchor="middle">0.0</text>
<line x1="365.06" y1="461.3" x2="365.06" y2="464.3" class="tick"/>
<text x="365.06" y="472.1" class="tl" text-anchor="middle">0.2</text>
<line x1="406.92" y1="461.3" x2="406.92" y2="464.3" class="tick"/>
<text x="406.92" y="472.1" class="tl" text-anchor="middle">0.4</text>
<line x1="448.78" y1="461.3" x2="448.78" y2="464.3" class="tick"/>
<text x="448.78" y="472.1" class="tl" text-anchor="middle">0.6</text>
<line x1="490.64" y1="461.3" x2="490.64" y2="464.3" class="tick"/>
<text x="490.64" y="472.1" class="tl" text-anchor="middle">0.8</text>
<line x1="532.50" y1="461.3" x2="532.50" y2="464.3" class="tick"/>
<text x="532.50" y="472.1" class="tl" text-anchor="middle">1.0</text>
<line x1="315.2" y1="431.30" x2="312.6" y2="431.30" class="tick"/>
<text transform="translate(309.0,431.30) rotate(-90)" class="tl" text-anchor="middle">0.4</text>
<line x1="315.2" y1="394.70" x2="312.6" y2="394.70" class="tick"/>
<text transform="translate(309.0,394.70) rotate(-90)" class="tl" text-anchor="middle">0.6</text>
<line x1="315.2" y1="358.10" x2="312.6" y2="358.10" class="tick"/>
<text transform="translate(309.0,358.10) rotate(-90)" class="tl" text-anchor="middle">0.8</text>
<line x1="315.2" y1="321.50" x2="312.6" y2="321.50" class="tick"/>
<text transform="translate(309.0,321.50) rotate(-90)" class="tl" text-anchor="middle">1.0</text>
<line x1="315.2" y1="284.90" x2="312.6" y2="284.90" class="tick"/>
<text transform="translate(309.0,284.90) rotate(-90)" class="tl" text-anchor="middle">1.2</text>
<text x="427.85" y="482.2" class="al" text-anchor="middle">Fraction of Design Space</text>
<text transform="translate(295.1,362.90) rotate(-90)" class="al" text-anchor="middle">Relative Prediction Variance</text>
<text transform="translate(427.85,261.40) rotate(0.01)" class="ti" text-anchor="middle">K = 5</text>
<rect x="315.2" y="264.5" width="42.80" height="38.00" class="lbox"/>
<line x1="319.8" y1="272.00" x2="332.6" y2="272.00" stroke="#0000ff" class="lline"/>
<text x="337.6" y="274.10" class="lt">N = 21</text>
<line x1="319.8" y1="279.60" x2="332.6" y2="279.60" stroke="#ff0000" class="lline"/>
<text x="337.6" y="281.70" class="lt">N = 23</text>
<line x1="319.8" y1="287.20" x2="332.6" y2="287.20" stroke="#a020f0" class="lline"/>
<text x="337.6" y="289.30" class="lt">N = 26</text>
<line x1="319.8" y1="294.80" x2="332.6" y2="294.80" stroke="#ffa500" class="lline"/>
<text x="337.6" y="296.90" class="lt">N = 30</text>
</svg>
</div>
</body></html>
